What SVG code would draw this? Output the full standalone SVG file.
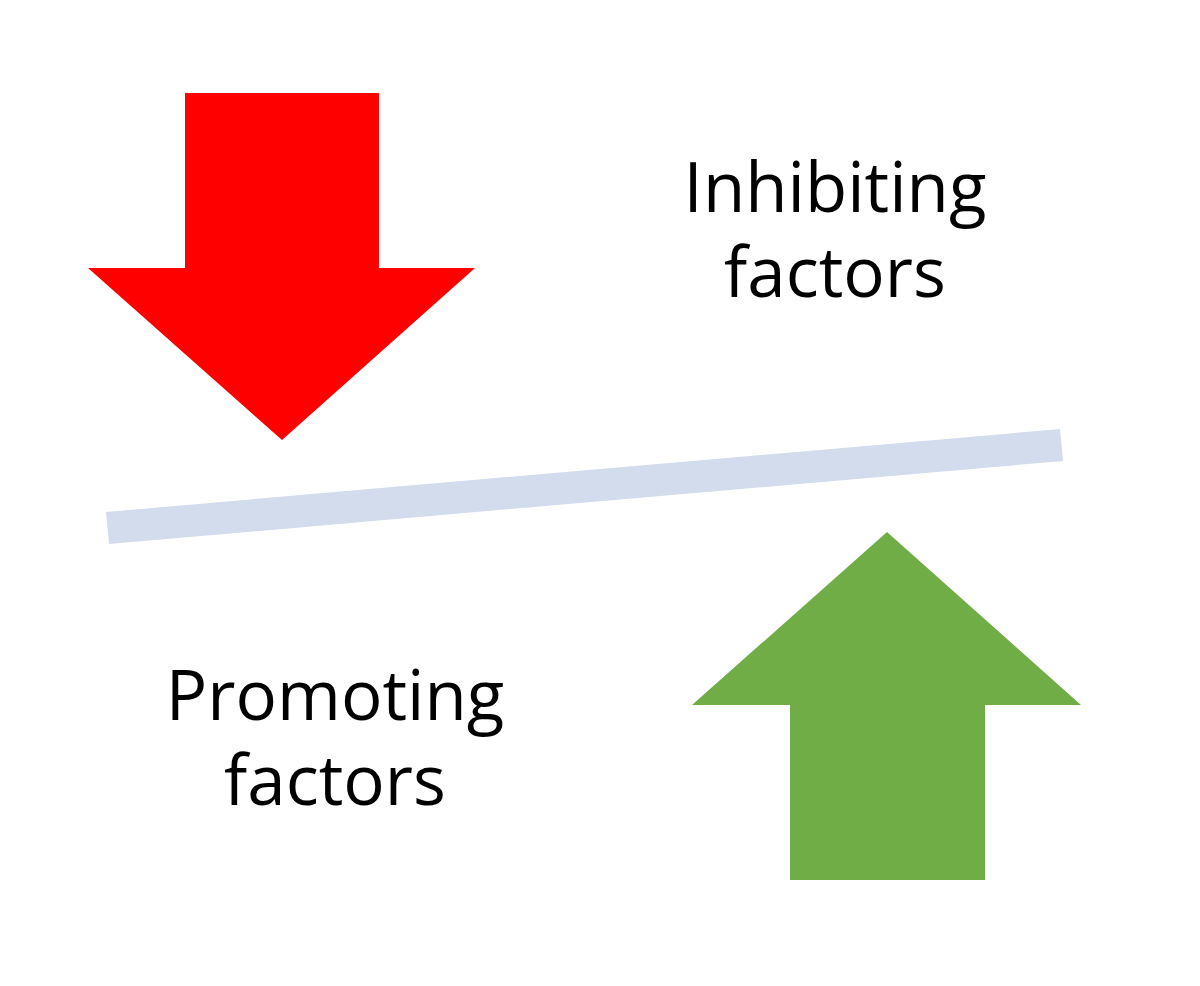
<svg xmlns="http://www.w3.org/2000/svg" width="1200" height="986" viewBox="0 0 1200 986">
<style>
text{font-family:"Open Sans","Liberation Sans",sans-serif;font-size:69px;fill:#000;text-anchor:middle}
</style>
<rect width="1200" height="986" fill="#fff"/>
<g id="balance-bar"><polygon points="106,512 1060,429 1063,461 109,544" fill="#d2dcec"/></g>
<g id="inhibiting-arrow"><polygon points="185,93 379,93 379,268 475,268 282,440 88,268 185,268" fill="#ff0000"/></g>
<g id="promoting-arrow"><polygon points="887,532 1081,705 985,705 985,880 790,880 790,705 692,705" fill="#70ad47"/></g>
<g id="inhibiting-label"><text x="835" y="212">Inhibiting</text><text x="835" y="297">factors</text></g>
<g id="promoting-label"><text x="335" y="720">Promoting</text><text x="335" y="805">factors</text></g>
</svg>
